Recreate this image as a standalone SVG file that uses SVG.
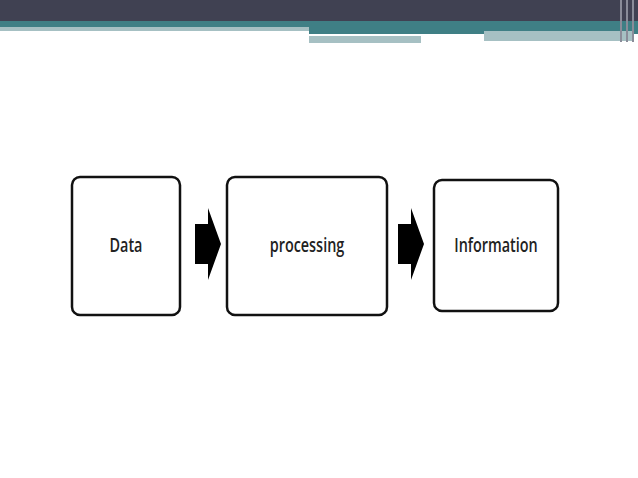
<svg xmlns="http://www.w3.org/2000/svg" width="638" height="478" viewBox="0 0 638 478">
<style>
.box{fill:#fff;stroke:#111;stroke-width:2.5}
.t{font-family:"Open Sans","DejaVu Sans",sans-serif;font-size:20px;font-weight:600;fill:#222;text-anchor:middle}
</style>
<rect width="638" height="478" fill="#fff"/>
<g id="header">
<rect x="0" y="0" width="638" height="22" fill="#404152"/>
<rect x="0" y="21" width="638" height="6" fill="#3f7f85"/>
<rect x="0" y="27" width="310" height="4" fill="#a6c0c3"/>
<rect x="309" y="27" width="329" height="7" fill="#3f7f85"/>
<rect x="309" y="34" width="175" height="2" fill="#fff"/>
<rect x="484" y="31" width="150" height="10" fill="#a6c0c3"/>
<rect x="309" y="36" width="112" height="7" fill="#a6c0c3"/>
<rect x="620" y="0" width="2" height="42" fill="#8a8c99"/>
<rect x="626" y="0" width="2" height="42" fill="#8a8c99"/>
<rect x="632" y="0" width="2" height="42" fill="#8a8c99"/>
</g>
<g id="data"><rect class="box" x="72" y="177" width="108" height="138" rx="8"/><text class="t" transform="translate(126 252) scale(0.72 1)">Data</text></g>
<g id="processing"><rect class="box" x="227" y="177" width="160" height="138" rx="8"/><text class="t" transform="translate(307 252) scale(0.72 1)">processing</text></g>
<g id="information"><rect class="box" x="434" y="180" width="124" height="131" rx="8"/><text class="t" transform="translate(496 252) scale(0.72 1)">Information</text></g>
<g id="connectors" fill="#000">
<polygon points="195,224 208,224 208,208 221,244 208,280 208,264 195,264"/>
<polygon points="398,224 411,224 411,208 424,244 411,280 411,264 398,264"/>
</g>
</svg>
